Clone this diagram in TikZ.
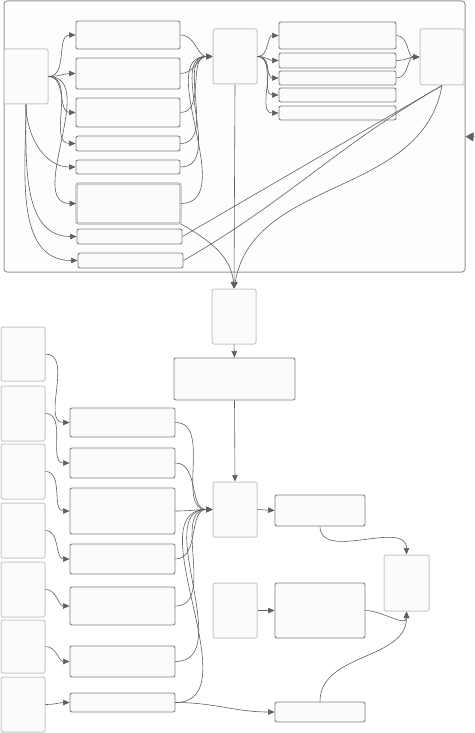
\documentclass[tikz,border=0pt]{standalone}
\usetikzlibrary{arrows.meta}
\definecolor{EdgeGray}{RGB}{95,95,95}
\definecolor{BoxLine}{RGB}{128,128,128}
\definecolor{TileLine}{RGB}{200,200,200}
\definecolor{BoxFill}{RGB}{251,251,251}
\definecolor{GroupLine}{RGB}{150,150,150}
\tikzset{
  flow/.style={-{Triangle[length=6.5pt,width=5.5pt]},semithick,draw=EdgeGray},
  plain/.style={semithick,draw=EdgeGray},
  box/.style={draw=BoxLine,fill=BoxFill,rounded corners=2pt,inner sep=0pt,line width=0.9pt},
  tile/.style={draw=TileLine,fill=BoxFill,rounded corners=2pt,inner sep=0pt,line width=1pt},
  groupframe/.style={draw=GroupLine,fill=BoxFill!60,rounded corners=3pt,inner sep=0pt,line width=1pt}
}

\begin{document}
\begin{tikzpicture}[x=1pt,y=-1pt]
  \useasboundingbox (0,0) rectangle (474,733);
  % upper group
  \node[groupframe,minimum width=461pt,minimum height=271pt] (grp) at (234.5,136.5) {};
  \coordinate (ext) at (475,137);
  \node[tile,minimum width=44pt,minimum height=55pt] (src) at (26,76.5) {};
  \node[box,minimum width=104pt,minimum height=28pt] (b1) at (128,35) {};
  \node[box,minimum width=104pt,minimum height=31pt] (b2) at (128,73.5) {};
  \node[box,minimum width=104pt,minimum height=29pt] (b3) at (128,112.5) {};
  \node[box,minimum width=104pt,minimum height=15pt] (b4) at (128,143.5) {};
  \node[box,minimum width=104pt,minimum height=14pt] (b5) at (128,167) {};
  \node[box,double=BoxFill,double distance=0.5pt,line width=0.6pt,minimum width=104pt,minimum height=40pt] (b6) at (128.5,203.5) {};
  \node[box,minimum width=105pt,minimum height=15pt] (b7) at (129.5,236.5) {};
  \node[box,minimum width=105pt,minimum height=15pt] (b8) at (130.5,260.5) {};
  \node[tile,minimum width=44pt,minimum height=55pt] (mid) at (235,56.5) {};
  \node[box,minimum width=117pt,minimum height=27pt] (d1) at (337.5,35.5) {};
  \node[box,minimum width=117pt,minimum height=15pt] (d2) at (337.5,60.5) {};
  \node[box,minimum width=117pt,minimum height=14pt] (d3) at (337.5,78) {};
  \node[box,minimum width=117pt,minimum height=14pt] (d4) at (337.5,95) {};
  \node[box,minimum width=117pt,minimum height=14pt] (d5) at (337.5,113) {};
  \node[tile,minimum width=44pt,minimum height=56pt] (sink) at (442,57) {};
  % lower part
  \node[tile,minimum width=44pt,minimum height=55pt] (join) at (234,316.5) {};
  \node[box,minimum width=121pt,minimum height=42pt] (gate) at (234.5,379) {};
  \node[tile,minimum width=44pt,minimum height=55pt] (hub) at (235,509.5) {};
  \node[tile,minimum width=44pt,minimum height=54pt] (l1) at (23,354) {};
  \node[tile,minimum width=44pt,minimum height=55pt] (l2) at (23,413.5) {};
  \node[tile,minimum width=44pt,minimum height=55pt] (l3) at (23,471.5) {};
  \node[tile,minimum width=44pt,minimum height=55pt] (l4) at (23,530.5) {};
  \node[tile,minimum width=44pt,minimum height=55pt] (l5) at (23,589.5) {};
  \node[tile,minimum width=44pt,minimum height=53pt] (l6) at (23,646.5) {};
  \node[tile,minimum width=44pt,minimum height=55pt] (l7) at (23,704.5) {};
  \node[box,minimum width=105pt,minimum height=29pt] (m1) at (122.5,422.5) {};
  \node[box,minimum width=105pt,minimum height=30pt] (m2) at (122.5,463) {};
  \node[box,minimum width=105pt,minimum height=46pt] (m3) at (122.5,511) {};
  \node[box,minimum width=105pt,minimum height=30pt] (m4) at (122.5,559) {};
  \node[box,minimum width=105pt,minimum height=38pt] (m5) at (122.5,606) {};
  \node[box,minimum width=105pt,minimum height=31pt] (m6) at (122.5,661.5) {};
  \node[box,minimum width=105pt,minimum height=19pt] (m7) at (122.5,702.5) {};
  \node[box,minimum width=90pt,minimum height=31pt] (n1) at (320,510.5) {};
  \node[tile,minimum width=44pt,minimum height=55pt] (side) at (235,610.5) {};
  \node[box,minimum width=90pt,minimum height=55pt] (n2) at (320,610.5) {};
  \node[box,minimum width=90pt,minimum height=20pt] (n3) at (320,712) {};
  \node[tile,minimum width=45pt,minimum height=56pt] (out) at (406.5,583) {};
  % connectors, upper group
  \draw[-{Triangle[length=8pt,width=9pt]},draw=EdgeGray,fill=EdgeGray] (ext) -- (grp.east);
  \foreach \b in {b1,b2,b3,b4,b6}
    \draw[flow] (src.east) to[out=0,in=180] (\b.west);
  \foreach \b in {b5,b7,b8}
    \draw[flow] (src.south) to[out=-90,in=180] (\b.west);
  \foreach \b in {b1,b2,b3,b4,b5,b6}
    \draw[flow] (\b.east) to[out=0,in=180] (mid.west);
  \foreach \d in {d1,d2,d3,d4,d5}
    \draw[flow] (mid.east) to[out=0,in=180] (\d.west);
  \foreach \d in {d1,d2,d3}
    \draw[flow] (\d.east) to[out=0,in=180] (sink.west);
  \draw[plain] (b7.east) -- (sink.south);
  \draw[plain] (b8.east) to[out=30,in=-150] (sink.south);
  \draw[flow] (mid.south) -- (join.north);
  \draw[flow] (b6.south east) to[out=-30,in=95] (join.north);
  \draw[flow] (sink.south) to[out=-100,in=80] (join.north);
  % connectors, lower part
  \draw[flow] (join.south) -- (gate.north);
  \draw[flow] (gate.south) -- (hub.north);
  \foreach \i in {1,...,7}
    \draw[flow] (l\i.east) to[out=0,in=180] (m\i.west);
  \foreach \i in {1,...,7}
    \draw[flow] (m\i.east) to[out=0,in=180] (hub.west);
  \draw[flow] (hub.east) -- (n1.west);
  \draw[flow] (side.east) -- (n2.west);
  \draw[flow] (m7.east) to[out=0,in=180] (n3.west);
  \draw[flow] (n1.south) to[out=-90,in=90] (out.north);
  \draw[flow] (n2.east) to[out=0,in=-90] (out.south);
  \draw[flow] (n3.north) to[out=90,in=-90] (out.south);
\end{tikzpicture}
\end{document}
